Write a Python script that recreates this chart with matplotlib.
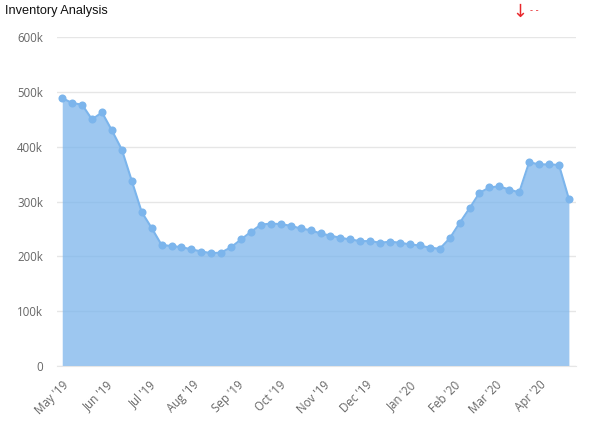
import matplotlib
matplotlib.use('Agg')

import matplotlib.pyplot as plt
import matplotlib.dates as mdates
import pandas as pd

# weekly inventory, in thousands
inventory_k = [489, 480, 477, 450, 463, 430, 395, 338, 281, 252,
               221, 219, 217, 213, 209, 206, 207, 217, 231, 245,
               258, 260, 259, 256, 251, 248, 242, 238, 234, 231,
               228, 228, 225, 227, 225, 222, 220, 216, 214, 233,
               261, 288, 316, 326, 328, 322, 317, 372, 368, 368,
               367, 305]
weeks = pd.date_range("2019-05-01", periods=len(inventory_k), freq="7D")
y_ticks = [0, 100000, 200000, 300000, 400000, 500000, 600000]
y_labels = ["0", "100k", "200k", "300k", "400k", "500k", "600k"]

values = [v * 1000 for v in inventory_k]
blue = "#7cb5ec"

fig = plt.figure(figsize=(5.9, 4.22), dpi=100)
ax = fig.add_axes([0.0966, 0.1327, 0.8794, 0.7789])

ax.fill_between(weeks, values, 0, color=blue, alpha=0.75, linewidth=0)
ax.plot(weeks, values, color=blue, linewidth=1.5, marker="o",
        markersize=5.8, markerfacecolor=blue, markeredgewidth=0)

ax.set_ylim(0, 600000)
ax.set_yticks(y_ticks)
ax.set_yticklabels(y_labels)
ax.set_xlim(weeks[0] - pd.Timedelta(days=3.7), weeks[-1] + pd.Timedelta(days=4.9))
ax.xaxis.set_major_locator(mdates.MonthLocator())
ax.xaxis.set_major_formatter(mdates.DateFormatter("%b '%y"))

ax.grid(axis="y", color="#e6e6e6", linewidth=1)
ax.set_axisbelow(True)
for side in ["top", "right", "left"]:
    ax.spines[side].set_visible(False)
ax.spines["bottom"].set_color("#e6e6e6")

ax.tick_params(axis="both", length=0, labelcolor="#666666", labelsize=8.3)
ax.tick_params(axis="y", pad=10)
ax.tick_params(axis="x", pad=9)
for lbl in ax.get_xticklabels():
    lbl.set_rotation(45)
    lbl.set_ha("right")
    lbl.set_rotation_mode("anchor")
    lbl.set_family("Open Sans")
for lbl in ax.get_yticklabels():
    lbl.set_family("Open Sans")

fig.text(0.008, 0.975, "Inventory Analysis", fontsize=9.2, color="#111111",
         family="Liberation Sans", va="center", ha="left")
fig.text(0.869, 0.972, "\u2193", fontsize=13, color="#e8262a", va="center", ha="left")
fig.text(0.898, 0.974, "- -", fontsize=6, color="#e8262a", va="center", ha="left")

fig.savefig("out.png", dpi=100)
plt.close(fig)
